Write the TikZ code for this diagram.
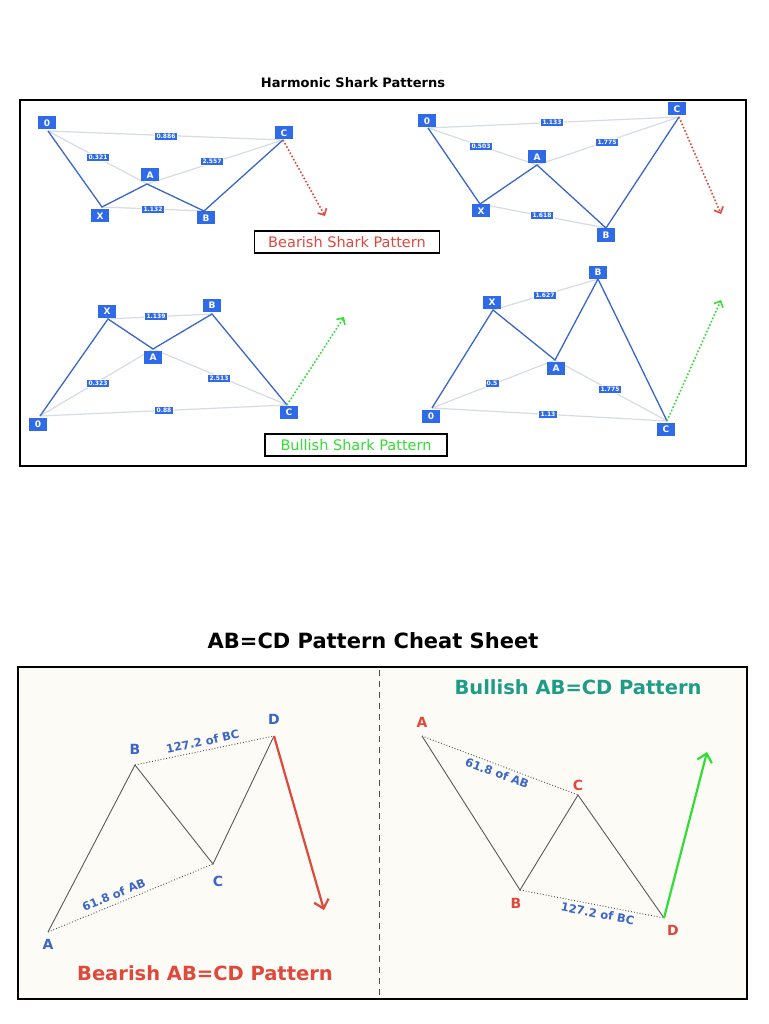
\documentclass[tikz,border=0pt]{standalone}
\usepackage{fontspec}
\setmainfont{DejaVu Sans}
\usetikzlibrary{arrows.meta}
\definecolor{pb}{HTML}{2F6BE8}
\definecolor{lb}{HTML}{3A66C8}
\definecolor{lg}{HTML}{D6DCE6}
\definecolor{rr}{HTML}{E0483C}
\definecolor{gg}{HTML}{33DD33}
\definecolor{tl}{HTML}{1E9C86}
\definecolor{cream}{HTML}{FCFBF6}
\tikzset{
 pt/.style={fill=pb,text=white,font=\bfseries\fontsize{9}{9}\selectfont,inner sep=2pt,minimum width=18pt,minimum height=13pt},
 rt/.style={fill=pb,draw=white,line width=0.3pt,text=white,font=\bfseries\fontsize{6}{6}\selectfont,inner sep=2pt},
 leg/.style={draw=lb,line width=1.3pt},
 ratio/.style={draw=lg,line width=1.2pt},
 bigarrowr/.style={rr,dotted,line width=1.6pt,-{Straight Barb[length=5pt,width=10pt]}},
 bigarrowg/.style={gg,dotted,line width=1.6pt,-{Straight Barb[length=5pt,width=10pt]}},
 cleg/.style={draw=black!65,line width=0.9pt},
 cdot/.style={draw=black!70,dotted,line width=0.9pt},
 cl/.style={font=\bfseries\fontsize{14}{14}\selectfont},
 cr/.style={font=\bfseries\fontsize{11.5}{11.5}\selectfont,text=lb},
}
\begin{document}
\begin{tikzpicture}[x=1pt,y=-1pt]
\useasboundingbox (0,0) rectangle (768,1024);
\fill[white] (0,0) rectangle (768,1024);
\node[font=\bfseries\fontsize{13}{13}\selectfont] (t1) at (353,83) {Harmonic Shark Patterns};
\draw[line width=1.4pt] (20,100) rectangle (746,466);
% TL
\coordinate (a0) at (48,131); \coordinate (aX) at (102,207); \coordinate (aA) at (147,184); \coordinate (aB) at (204,211); \coordinate (aC) at (283,140);
\draw[ratio] (a0)--(aC) (a0)--(aA)--(aC) (aX)--(aB);
\draw[leg] (a0)--(aX)--(aA)--(aB)--(aC);
\node[pt] at (47,123) {0}; \node[pt] at (100,216) {X}; \node[pt] at (150,175) {A}; \node[pt] at (206,218) {B}; \node[pt] at (284,133) {C};
\node[rt] at (166,136) {0.886}; \node[rt] at (98,157) {0.321}; \node[rt] at (212,161) {2.557}; \node[rt] at (153,209) {1.132};
\coordinate (aE) at (325,216); \draw[bigarrowr] (aC)--(aE);
% TR
\coordinate (b0) at (428,128); \coordinate (bX) at (480,204); \coordinate (bA) at (537,165); \coordinate (bB) at (606,228); \coordinate (bC) at (679,117);
\draw[ratio] (b0)--(bC) (b0)--(bA)--(bC) (bX)--(bB);
\draw[leg] (b0)--(bX)--(bA)--(bB)--(bC);
\node[pt] at (427,121) {0}; \node[pt] at (481,211) {X}; \node[pt] at (537,157) {A}; \node[pt] at (606,235) {B}; \node[pt] at (677,109) {C};
\node[rt] at (552,122) {1.133}; \node[rt] at (481,146) {0.503}; \node[rt] at (607,142) {1.775}; \node[rt] at (542,215) {1.618};
\coordinate (bE) at (721,214); \draw[bigarrowr] (bC)--(bE);
\node[draw,line width=1.2pt,text=rr,font=\fontsize{14.5}{14.5}\selectfont,minimum width=185pt,minimum height=22pt,inner sep=1pt] (bear) at (347,242) {Bearish Shark Pattern};
% BL
\coordinate (c0) at (40,416); \coordinate (cX) at (108,319); \coordinate (cA) at (153,349); \coordinate (cB) at (212,314); \coordinate (cC) at (287,405);
\draw[ratio] (c0)--(cC) (c0)--(cA)--(cC) (cX)--(cB);
\draw[leg] (c0)--(cX)--(cA)--(cB)--(cC);
\node[pt] at (38,424) {0}; \node[pt] at (107,311) {X}; \node[pt] at (153,357) {A}; \node[pt] at (212,305) {B}; \node[pt] at (289,412) {C};
\node[rt] at (156,316) {1.139}; \node[rt] at (98,383) {0.323}; \node[rt] at (219,378) {2.513}; \node[rt] at (164,410) {0.88};
\coordinate (cE) at (344,317); \draw[bigarrowg] (cC)--(cE);
% BR
\coordinate (d0) at (432,408); \coordinate (dX) at (493,310); \coordinate (dA) at (555,360); \coordinate (dB) at (598,279); \coordinate (dC) at (667,421);
\draw[ratio] (d0)--(dC) (d0)--(dA)--(dC) (dX)--(dB);
\draw[leg] (d0)--(dX)--(dA)--(dB)--(dC);
\node[pt] at (431,416) {0}; \node[pt] at (492,302) {X}; \node[pt] at (556,368) {A}; \node[pt] at (598,272) {B}; \node[pt] at (666,429) {C};
\node[rt] at (545,295) {1.627}; \node[rt] at (492,383) {0.5}; \node[rt] at (610,389) {1.775}; \node[rt] at (548,414) {1.13};
\coordinate (dE) at (721,300); \draw[bigarrowg] (dC)--(dE);
\node[draw,line width=1.2pt,text=gg,font=\fontsize{14.5}{14.5}\selectfont,minimum width=182pt,minimum height=22pt,inner sep=1pt] (bull) at (356,445) {Bullish Shark Pattern};
% Bottom
\node[font=\bfseries\fontsize{21}{21}\selectfont] (t2) at (373,641) {AB=CD Pattern Cheat Sheet};
\draw[line width=1.8pt,fill=cream] (18,667) rectangle (747,999);
\draw[line width=0.9pt,black!70,dash pattern=on 6pt off 5pt] (379,670)--(379,996);
% left
\coordinate (eA) at (48,932); \coordinate (eB) at (135,765); \coordinate (eC) at (213,864); \coordinate (eD) at (274,736);
\draw[cleg] (eA)--(eB)--(eC)--(eD);
\draw[cdot] (eB)--(eD) node[cr,midway,above,sloped,yshift=1pt] {127.2 of BC};
\draw[cdot] (eA)--(eC) node[cr,pos=0.42,above,sloped,yshift=1pt] {61.8 of AB};
\coordinate (eE) at (324,910);
\draw[rr,line width=2.2pt,-{Straight Barb[length=8pt,width=15pt]}] (eD)--(eE);
\node[cl,text=lb] at (48,944) {A}; \node[cl,text=lb] at (135,749) {B}; \node[cl,text=lb] at (218,881) {C}; \node[cl,text=lb] at (274,719) {D};
\node[text=rr,font=\bfseries\fontsize{19.5}{19.5}\selectfont] at (205,973) {Bearish AB=CD Pattern};
% right
\coordinate (fA) at (422,736); \coordinate (fB) at (520,890); \coordinate (fC) at (578,795); \coordinate (fD) at (664,918);
\draw[cleg] (fA)--(fB)--(fC)--(fD);
\draw[cdot] (fA)--(fC) node[cr,pos=0.5,below,sloped] {61.8 of AB};
\draw[cdot] (fB)--(fD) node[cr,pos=0.55,below,sloped] {127.2 of BC};
\coordinate (fE) at (707,752);
\draw[gg,line width=2.2pt,-{Straight Barb[length=8pt,width=15pt]}] (fD)--(fE);
\node[cl,text=rr] at (422,722) {A}; \node[cl,text=rr] at (516,903) {B}; \node[cl,text=rr] at (578,785) {C}; \node[cl,text=rr] at (673,930) {D};
\node[text=tl,font=\bfseries\fontsize{19.5}{19.5}\selectfont] at (578,687) {Bullish AB=CD Pattern};
\end{tikzpicture}
\end{document}
